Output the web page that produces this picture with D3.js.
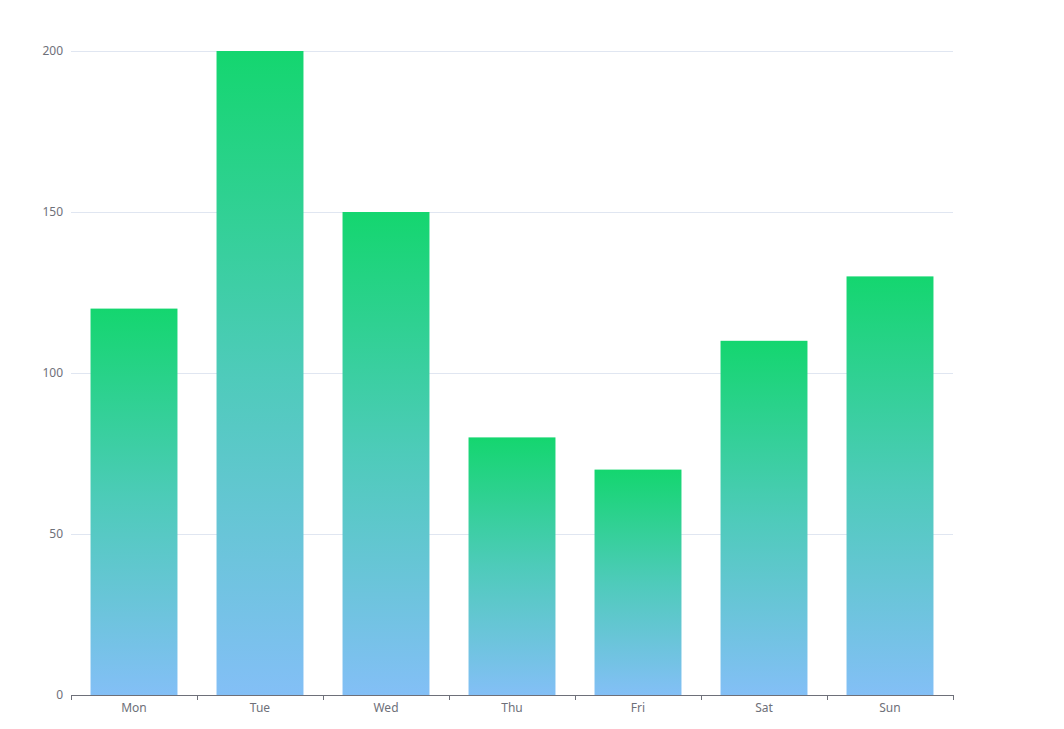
<!DOCTYPE html>
<html><head><meta charset="utf-8">
<script src="https://cdn.jsdelivr.net/npm/d3@7"></script>
<style>body{margin:0;background:#fff}text{font-family:"Microsoft YaHei","Noto Sans",sans-serif;font-size:12px;fill:#6e7079}</style>
</head><body><svg id="c" width="1064" height="729"></svg>
<script>
const categories=["Mon","Tue","Wed","Thu","Fri","Sat","Sun"];
const values=[120,200,150,80,70,110,130];
const yTicks=[0,50,100,150,200];
const svg=d3.select("#c");
const L=71,R=953,T=51,B=695;
const x=d3.scaleBand().domain(categories).range([L,R]);
const y=d3.scaleLinear().domain([0,200]).range([B,T]);
const defs=svg.append("defs");
const g=defs.append("linearGradient").attr("id","gr").attr("x1",0).attr("y1",0).attr("x2",0).attr("y2",1);
g.append("stop").attr("offset","0%").attr("stop-color","#14d66f");
g.append("stop").attr("offset","50%").attr("stop-color","#4ecbba");
g.append("stop").attr("offset","100%").attr("stop-color","#83bff6");
svg.selectAll(".gl").data(yTicks.slice(1)).join("line").attr("x1",L).attr("x2",R).attr("y1",d=>y(d)+0.5).attr("y2",d=>y(d)+0.5).attr("stroke","#e0e6f1");
svg.selectAll(".yl").data(yTicks).join("text").attr("x",63).attr("y",d=>y(d)).attr("dy","0.35em").attr("text-anchor","end").text(d=>d);
const bw=x.bandwidth()*0.69;
svg.selectAll(".bar").data(values).join("rect").attr("x",(d,i)=>x(categories[i])+(x.bandwidth()-bw)/2).attr("width",bw).attr("y",d=>y(d)).attr("height",d=>B-y(d)).attr("fill","url(#gr)");
svg.append("line").attr("x1",L).attr("x2",R).attr("y1",B+0.5).attr("y2",B+0.5).attr("stroke","#6e7079");
const ticks=categories.map(c=>x(c)).concat([R]);
svg.selectAll(".tk").data(ticks).join("line").attr("x1",d=>Math.round(d)+0.5).attr("x2",d=>Math.round(d)+0.5).attr("y1",B).attr("y2",B+5).attr("stroke","#6e7079");
svg.selectAll(".xl").data(categories).join("text").attr("x",d=>x(d)+x.bandwidth()/2).attr("y",B+17).attr("text-anchor","middle").text(d=>d);
</script></body></html>
